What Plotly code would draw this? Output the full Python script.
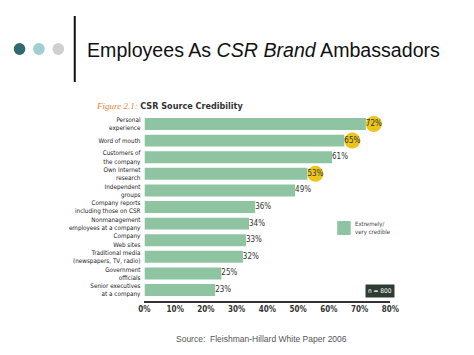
import plotly.graph_objects as go

W, H = 474, 355

categories = [
    "Personal<br>experience",
    "Word of mouth",
    "Customers of<br>the company",
    "Own Internet<br>research",
    "Independent<br>groups",
    "Company reports<br>including those on CSR",
    "Nonmanagement<br>employees at a company",
    "Company<br>Web sites",
    "Traditional media<br>(newspapers, TV, radio)",
    "Government<br>officials",
    "Senior executives<br>at a company",
]
values = [72, 65, 61, 53, 49, 36, 34, 33, 32, 25, 23]
highlighted = [True, True, False, True, False, False, False, False, False, False, False]
tick_vals = [0, 10, 20, 30, 40, 50, 60, 70, 80]
tick_text = ["0%", "10%", "20%", "30%", "40%", "50%", "60%", "70%", "80%"]

BAR = "#8fc4a3"
YELLOW = "#ecc51c"
NARROW = "Liberation Sans Narrow, DejaVu Sans Condensed, Arial Narrow, sans-serif"

def px(x):
    return x / W

def py(y):
    return 1 - y / H

label_offset = 2.6  # in axis units, centre of value label right of bar end

fig = go.Figure()

hx = [v + label_offset for v, h in zip(values, highlighted) if h]
hy = [c for c, h in zip(categories, highlighted) if h]

fig.add_trace(go.Bar(
    x=values, y=categories, orientation="h",
    marker=dict(color=BAR, line=dict(width=0)),
    showlegend=False, hoverinfo="skip",
))
fig.add_trace(go.Scatter(
    x=hx, y=hy, mode="markers",
    marker=dict(size=16, color=YELLOW, line=dict(width=0)),
    showlegend=False, hoverinfo="skip", cliponaxis=False,
))
fig.add_trace(go.Scatter(
    x=[v + label_offset for v in values], y=categories, mode="text",
    text=[f"{v}%" for v in values], textposition="middle center",
    textfont=dict(family=NARROW, size=8, color="#333333"),
    showlegend=False, hoverinfo="skip", cliponaxis=False,
))

fig.update_layout(
    width=W, height=H,
    margin=dict(l=0, r=0, t=0, b=0),
    paper_bgcolor="white", plot_bgcolor="white",
    bargap=0.28,
    xaxis=dict(
        domain=[px(143), px(397)], range=[0, 80],
        tickvals=tick_vals, ticktext=tick_text,
        showgrid=False, zeroline=False,
        showline=True, linecolor="#333333", linewidth=1.5,
        ticks="", ticklen=0,
        tickfont=dict(family=NARROW, size=8, color="#333333", weight="bold"),
        anchor="y",
    ),
    yaxis=dict(
        domain=[py(301), py(115.7)],
        range=[10.66, -0.5],
        showgrid=False, zeroline=False, showline=False,
        ticks="", ticklen=0,
        tickfont=dict(family=NARROW, size=6.3, color="#222222"),
        ticklabelstandoff=3,
    ),
    font=dict(family="Liberation Sans, Arial, sans-serif", color="#222222"),
)

shapes = []
# decorative dots
for cx, col in [(14, "#2f6a6e"), (34, "#9fd0d0"), (54, "#cfcfcf")]:
    r = 6
    shapes.append(dict(type="circle", xref="paper", yref="paper",
                       x0=px(cx - r), x1=px(cx + r), y0=py(49 + r), y1=py(49 - r),
                       fillcolor=col, line=dict(width=0)))
# vertical rule
shapes.append(dict(type="line", xref="paper", yref="paper",
                   x0=px(71), x1=px(71), y0=py(16), y1=py(82),
                   line=dict(color="#111111", width=2)))
# legend swatch
shapes.append(dict(type="rect", xref="paper", yref="paper",
                   x0=px(342), x1=px(356), y0=py(235), y1=py(221),
                   fillcolor=BAR, line=dict(width=0)))
fig.update_layout(shapes=shapes)

annotations = [
    dict(text="Employees As <i>CSR Brand</i> Ambassadors",
         x=px(82), y=py(50), xref="paper", yref="paper",
         xanchor="left", yanchor="middle", showarrow=False,
         font=dict(family="Liberation Sans, Arial, sans-serif", size=19.6, color="#111111")),
    dict(text="<span style='font-family:Liberation Serif, serif;color:#e8843c'><i>Figure 2.1:</i></span> <b>CSR Source Credibility</b>",
         x=px(91), y=py(106), xref="paper", yref="paper",
         xanchor="left", yanchor="middle", showarrow=False,
         font=dict(family=NARROW, size=9, color="#333333")),
    dict(text="Extremely/<br>very credible",
         x=px(358), y=py(228), xref="paper", yref="paper",
         xanchor="left", yanchor="middle", showarrow=False, align="left",
         font=dict(family=NARROW, size=6, color="#444444")),
    dict(text="n = 800",
         x=px(386), y=py(291), xref="paper", yref="paper",
         xanchor="center", yanchor="middle", showarrow=False,
         bgcolor="#2d3d31", borderpad=2,
         font=dict(family=NARROW, size=6.5, color="white")),
    dict(text="Source:  Fleishman-Hillard White Paper 2006",
         x=px(174), y=py(339), xref="paper", yref="paper",
         xanchor="left", yanchor="middle", showarrow=False,
         font=dict(family="Liberation Sans, Arial, sans-serif", size=8.5, color="#555555")),
]
fig.update_layout(annotations=annotations)

fig.write_html(
    "out.html",
    config={"displayModeBar": False},
    post_script="document.body.style.margin='0';document.body.style.overflow='hidden';",
)
